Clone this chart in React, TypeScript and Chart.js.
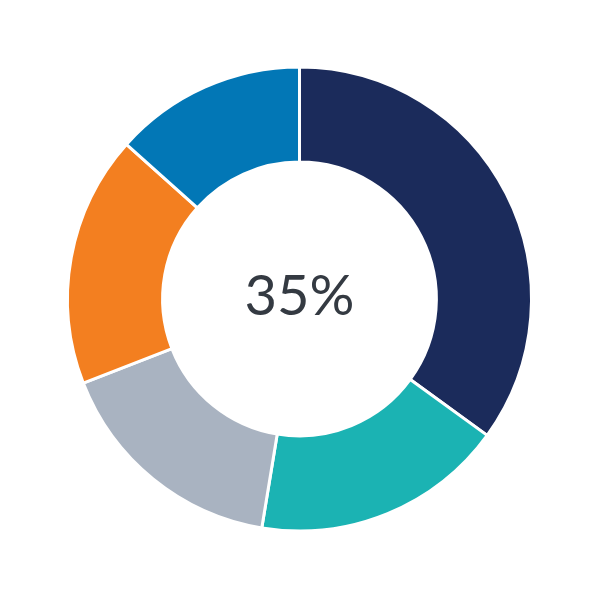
import React, { useEffect, useRef } from "react";
import { Chart, registerables } from "chart.js";

Chart.register(...registerables);

const categories = ["Segment A", "Segment B", "Segment C", "Segment D", "Segment E"];
const values = [35, 17.6, 16.5, 17.5, 13.4];
const colors = ["#1b2b5b", "#1bb3b3", "#a9b3c1", "#f37f20", "#0277b6"];
const centerLabel = "35%";

const centerTextPlugin = {
  id: "centerText",
  afterDraw(chart: any) {
    const { ctx, chartArea } = chart;
    const cx = (chartArea.left + chartArea.right) / 2;
    const cy = (chartArea.top + chartArea.bottom) / 2;
    ctx.save();
    ctx.font = "400 56px Lato";
    ctx.fillStyle = "#343a42";
    ctx.textAlign = "center";
    ctx.textBaseline = "alphabetic";
    ctx.fillText(centerLabel, cx, cy + 16);
    ctx.restore();
  },
};

export default function App() {
  const ref = useRef<HTMLCanvasElement | null>(null);
  useEffect(() => {
    if (!ref.current) return;
    const chart = new Chart(ref.current, {
      type: "doughnut",
      data: {
        labels: categories,
        datasets: [
          {
            data: values,
            backgroundColor: colors,
            borderColor: "#ffffff",
            borderWidth: 3,
            hoverOffset: 0,
          },
        ],
      },
      options: {
        animation: false,
        responsive: true,
        maintainAspectRatio: false,
        cutout: "59%",
        layout: { padding: { left: 66, right: 67, top: 65, bottom: 67 } },
        plugins: {
          legend: { display: false },
          tooltip: { enabled: false },
        },
      },
      plugins: [centerTextPlugin],
    });
    return () => chart.destroy();
  }, []);
  return (
    <div style={{ position: "absolute", left: 0, top: 0, width: 600, height: 600, background: "#ffffff" }}>
      <canvas ref={ref} />
    </div>
  );
}
